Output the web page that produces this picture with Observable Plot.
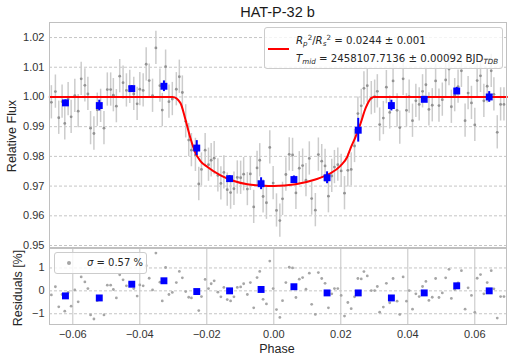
<!DOCTYPE html>
<html>
<head>
<meta charset="utf-8">
<script src="https://cdn.jsdelivr.net/npm/d3@7"></script>
<script src="https://cdn.jsdelivr.net/npm/@observablehq/plot@0.6"></script>
<style>
  html, body { margin: 0; padding: 0; background: #fff; }
  #chart { position: relative; width: 512px; height: 361px; background: #fff; overflow: hidden;
           font-family: "Liberation Sans", Arial, sans-serif; color: #262626; }
  .abs { position: absolute; white-space: nowrap; }
  .ctr { transform: translate(-50%, -50%); }
  .rot { transform: translate(-50%, -50%) rotate(-90deg); }
  .legend { position: absolute; box-sizing: border-box; border: 1px solid #cccccc; border-radius: 3px;
            background: rgba(255,255,255,0.8); font-family: "DejaVu Sans", sans-serif; }
  .sp { font-size: 0.7em; vertical-align: 0.5em; line-height: 0; }
  .sb { font-size: 0.7em; vertical-align: -0.3em; line-height: 0; }
</style>
</head>
<body>
<div id="chart">
  <div id="top" class="abs" style="left:0;top:0"></div>
  <div id="bot" class="abs" style="left:0;top:247px"></div>
</div>
<script>
// ---------- data ----------
const title = "HAT-P-32 b";
const phase = [
  -0.0664,-0.0652,-0.0642,-0.0632,-0.0624,-0.0614,-0.0605,-0.0594,-0.0584,-0.0575,
  -0.0564,-0.0555,-0.0547,-0.0537,-0.0527,-0.0517,-0.0507,-0.0497,-0.0487,-0.0479,
  -0.0470,-0.0460,-0.0450,-0.0440,-0.0430,-0.0418,-0.0408,-0.0400,-0.0390,-0.0381,
  -0.0372,-0.0362,-0.0352,-0.0340,-0.0333,-0.0323,-0.0313,-0.0303,-0.0291,-0.0282,
  -0.0273,-0.0263,-0.0254,-0.0246,-0.0234,-0.0224,-0.0216,-0.0205,-0.0195,-0.0187,
  -0.0178,-0.0167,-0.0158,-0.0149,-0.0139,-0.0129,-0.0119,-0.0109,-0.0099,-0.0090,
  -0.0079,-0.0070,-0.0060,-0.0050,-0.0042,-0.0032,-0.0022,-0.0012,-0.0002,0.0008,
  0.0018,0.0026,0.0036,0.0046,0.0056,0.0066,0.0076,0.0086,0.0096,0.0106,
  0.0113,0.0124,0.0133,0.0143,0.0153,0.0163,0.0173,0.0181,0.0191,0.0201,
  0.0211,0.0221,0.0231,0.0241,0.0251,0.0261,0.0269,0.0279,0.0291,0.0301,
  0.0309,0.0316,0.0327,0.0336,0.0346,0.0356,0.0368,0.0376,0.0386,0.0396,
  0.0404,0.0414,0.0424,0.0434,0.0444,0.0454,0.0463,0.0473,0.0483,0.0493,
  0.0503,0.0513,0.0523,0.0530,0.0540,0.0550,0.0560,0.0571,0.0580,0.0590,
  0.0600,0.0607,0.0617,0.0627,0.0637,0.0649,0.0657,0.0667,0.0677,0.0687
];
const flux = [
  0.9982,1.0018,0.9930,0.9984,0.9911,0.9993,0.9933,1.0004,0.9952,1.0061,
  1.0039,1.0010,0.9895,0.9877,0.9957,0.9970,0.9895,1.0025,1.0025,1.0006,
  0.9969,1.0070,1.0048,1.0022,1.0034,1.0010,0.9977,1.0026,1.0022,1.0110,
  1.0055,1.0004,1.0165,1.0038,0.9956,1.0102,0.9984,0.9993,1.0026,1.0068,
  1.0015,0.9918,0.9855,0.9821,0.9805,0.9707,0.9756,0.9821,0.9772,0.9787,
  0.9794,0.9736,0.9709,0.9746,0.9688,0.9678,0.9691,0.9729,0.9728,0.9740,
  0.9690,0.9741,0.9630,0.9761,0.9787,0.9665,0.9644,0.9830,0.9710,0.9618,
  0.9584,0.9657,0.9739,0.9807,0.9805,0.9677,0.9760,0.9769,0.9720,0.9793,
  0.9658,0.9619,0.9806,0.9784,0.9768,0.9666,0.9734,0.9764,0.9772,0.9751,
  0.9676,0.9753,0.9756,0.9835,0.9944,0.9970,1.0029,1.0038,0.9996,1.0001,
  1.0019,0.9907,0.9929,1.0033,0.9948,1.0054,0.9955,0.9897,1.0061,0.9955,
  1.0001,0.9920,0.9987,0.9975,1.0019,1.0041,0.9958,0.9972,1.0054,0.9971,
  0.9991,1.0057,1.0094,0.9967,1.0006,1.0035,1.0088,0.9920,1.0013,0.9980,
  0.9906,1.0055,1.0071,0.9987,1.0036,1.0088,1.0009,0.9881,0.9975,0.9975
];
const fluxErr = 0.0056;
const resid = [
  -0.18,0.18,-0.70,-0.16,-0.89,-0.07,-0.67,0.04,-0.48,0.61,
  0.39,0.10,-1.05,-1.23,-0.43,-0.30,-1.05,0.25,0.25,0.06,
  -0.31,0.70,0.48,0.22,0.34,0.10,-0.23,0.26,0.22,1.10,
  0.55,0.04,1.65,0.38,-0.44,1.02,-0.16,-0.07,0.36,0.85,
  0.57,-0.03,-0.28,-0.31,-0.07,-0.86,-0.25,0.50,0.10,0.31,
  0.44,-0.06,-0.26,0.15,-0.38,-0.44,-0.26,0.15,0.17,0.31,
  -0.16,0.36,-0.74,0.58,0.85,-0.37,-0.57,1.30,0.10,-0.82,
  -1.16,-0.43,0.36,1.03,1.00,-0.29,0.51,0.58,0.07,0.77,
  -0.59,-1.03,0.80,0.54,0.33,-0.74,-0.13,0.10,0.10,-0.20,
  -1.10,-0.51,-0.78,-0.26,0.54,0.52,0.84,0.65,0.01,0.01,
  0.19,-0.93,-0.71,0.33,-0.52,0.54,-0.45,-1.03,0.61,-0.45,
  0.01,-0.80,-0.13,-0.25,0.19,0.41,-0.42,-0.28,0.54,-0.29,
  -0.09,0.57,0.94,-0.33,0.06,0.35,0.88,-0.80,0.13,-0.20,
  -0.94,0.55,0.71,-0.13,0.36,0.88,0.09,-1.19,-0.25,-0.25
];
const binPhase = [-0.0622,-0.0521,-0.0424,-0.0328,-0.0230,-0.0132,-0.0038,0.0060,0.0159,0.0252,0.0351,0.0449,0.0546,0.0643];
const binFlux  = [0.9980,0.9971,1.0028,1.0036,0.9828,0.9725,0.9708,0.9722,0.9728,0.9888,0.9971,0.9992,1.0020,1.0000];
const binErr   = [0.0010,0.0018,0.0010,0.0018,0.0025,0.0010,0.0020,0.0012,0.0020,0.0040,0.0018,0.0010,0.0012,0.0018];
const binResid = [-0.22,-0.31,0.29,0.44,-0.03,0.00,0.06,0.18,-0.09,-0.09,-0.31,-0.09,0.22,0.00];
const modelPhase = [-0.0669,-0.0302,-0.0279,-0.0264,-0.0249,-0.0234,-0.0219,-0.0199,-0.0159,-0.0119,-0.0079,-0.0040,0.0000,0.0065,0.0124,0.0164,0.0199,0.0219,0.0229,0.0244,0.0259,0.0274,0.0289,0.0299,0.0696];
const modelFlux  = [1.0000,1.0000,0.9980,0.9925,0.9862,0.9812,0.9784,0.9765,0.9736,0.9717,0.9706,0.9702,0.9700,0.9706,0.9722,0.9740,0.9768,0.9798,0.9827,0.9866,0.9911,0.9962,0.9994,1.0000,1.0000];
const xTicks = [-0.06,-0.04,-0.02,0.00,0.02,0.04,0.06];
const yTicksTop = [0.95,0.96,0.97,0.98,0.99,1.00,1.01,1.02];
const yTicksRes = [-1,0,1];
const xDomain = [-0.06696, 0.06946];
const yDomainTop = [0.94933, 1.02506];
const yDomainRes = [-1.47, 1.85];
const legendRp = "0.0244 ± 0.001";
const legendT = "2458107.7136 ± 0.00092";
const sigmaText = "0.57 %";

// ---------- tables ----------
const pts = phase.map((p, i) => ({p, f: flux[i], r: resid[i]}));
const bins = binPhase.map((p, i) => ({p, f: binFlux[i], e: binErr[i], r: binResid[i]}));
const model = modelPhase.map((p, i) => ({p, f: modelFlux[i]}));

const font = "'Liberation Sans', Arial, sans-serif";
const axisStyle = {fontFamily: font, fontSize: "11px", color: "#333", background: "transparent", overflow: "visible"};
const gridCol = "#b8b8b8";
const frameCol = "#c0c0c0";

const topPlot = Plot.plot({
  width: 512, height: 248,
  marginTop: 22, marginRight: 6, marginBottom: 1, marginLeft: 49,
  style: axisStyle,
  x: {domain: xDomain, axis: null},
  y: {domain: yDomainTop},
  marks: [
    Plot.gridY(yTicksTop, {stroke: gridCol, strokeOpacity: 1, strokeDasharray: "3,2", strokeWidth: 0.8}),
    Plot.ruleX(pts, {x: "p", y1: d => d.f - fluxErr, y2: d => d.f + fluxErr, stroke: "#cccccc", strokeWidth: 1.5}),
    Plot.dot(pts, {x: "p", y: "f", r: 1.4, fill: "#939393", stroke: null}),
    Plot.line(model, {x: "p", y: "f", stroke: "#ff0000", strokeWidth: 2, curve: "monotone-x"}),
    Plot.ruleX(bins, {x: "p", y1: d => d.f - d.e, y2: d => d.f + d.e, stroke: "#0000ff", strokeWidth: 2}),
    Plot.dot(bins, {x: "p", y: "f", symbol: "square", r: 3.9, fill: "#0000ff", stroke: null}),
    Plot.axisY(yTicksTop, {tickSize: 0, tickPadding: 5, tickFormat: d3.format(".2f"), label: null}),
    Plot.frame({stroke: frameCol})
  ]
});
document.getElementById("top").appendChild(topPlot);

const botPlot = Plot.plot({
  width: 512, height: 114,
  marginTop: 1, marginRight: 6, marginBottom: 37, marginLeft: 49,
  style: axisStyle,
  x: {domain: xDomain},
  y: {domain: yDomainRes},
  marks: [
    Plot.gridY(yTicksRes, {stroke: gridCol, strokeOpacity: 1, strokeDasharray: "3,2", strokeWidth: 0.8}),
    Plot.gridX(xTicks, {stroke: "#c4c4c4", strokeOpacity: 1, strokeWidth: 1}),
    Plot.dot(pts, {x: "p", y: "r", r: 1.4, fill: "#a6a6a6", stroke: null}),
    Plot.dot(bins, {x: "p", y: "r", symbol: "square", r: 3.9, fill: "#0000ff", stroke: null}),
    Plot.axisY(yTicksRes, {tickSize: 0, tickPadding: 5, tickFormat: d => d3.format("d")(d), label: null}),
    Plot.axisX(xTicks, {tickSize: 0, tickPadding: 6, tickFormat: d3.format(".2f"), label: null}),
    Plot.frame({stroke: frameCol})
  ]
});
document.getElementById("bot").appendChild(botPlot);

// ---------- texts & legends (HTML overlays) ----------
const chart = document.getElementById("chart");
function add(html) { chart.insertAdjacentHTML("beforeend", html); }
add(`<div class="abs ctr" style="left:277.5px;top:12px;font-size:14.5px;color:#1a1a1a">${title}</div>`);
add(`<div class="abs rot" style="left:12px;top:136px;font-size:12.5px">Relative Flux</div>`);
add(`<div class="abs rot" style="left:18px;top:288px;font-size:12.5px">Residuals [%]</div>`);
add(`<div class="abs ctr" style="left:277px;top:349px;font-size:12.5px">Phase</div>`);
add(`<div class="legend" style="left:264px;top:27px;width:239px;height:42px">
  <div class="abs" style="left:3px;top:20px;width:21px;height:2px;background:#ff0000"></div>
  <div class="abs" style="left:31px;top:6px;font-size:10.2px;line-height:13px"><i>R</i><span class="sb"><i>p</i></span><span class="sp">2</span>/<i>R</i><span class="sb"><i>s</i></span><span class="sp">2</span> = ${legendRp}</div>
  <div class="abs" style="left:31px;top:24px;font-size:10.2px;line-height:13px"><i>T</i><span class="sb"><i>mid</i></span> = ${legendT} BJD<span class="sb"><i>TDB</i></span></div>
</div>`);
add(`<div class="legend" style="left:54px;top:252px;width:93px;height:22px">
  <div class="abs" style="left:12px;top:8px;width:4px;height:4px;border-radius:50%;background:#a6a6a6"></div>
  <div class="abs" style="left:32px;top:3px;font-size:10px;line-height:14px"><i>σ</i> = ${sigmaText}</div>
</div>`);
</script>
</body>
</html>
